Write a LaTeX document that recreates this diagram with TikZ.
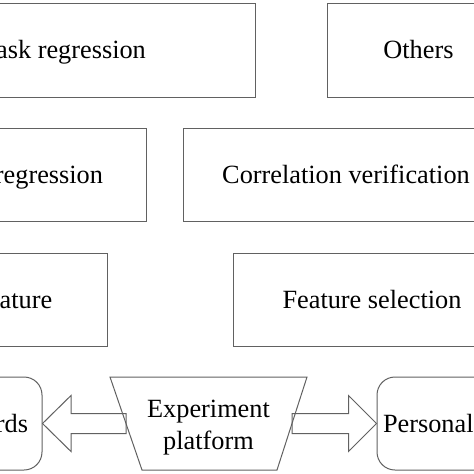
\documentclass[tikz,border=0pt]{standalone}
\usepackage{fontspec}
\setmainfont{Liberation Serif}
\usetikzlibrary{calc}
\begin{document}
\begin{tikzpicture}[x=1pt,y=-1pt,
  lk/.style={draw=black!62, line width=1pt},
  box/.style={lk, rectangle, inner sep=0pt, text height=17.4pt, text depth=0pt},
  rbox/.style={box, rounded corners=18pt},
  every node/.style={font=\fontsize{26.3}{32}\selectfont},
  blockarrow/.style={lk, line join=miter}]
\fill[white] (0,0) rectangle (474,474);
\useasboundingbox (0,0) rectangle (474,474);
\clip (0,0) rectangle (474,474);
% row 1
\node[box, minimum width=368pt, minimum height=94pt] (task) at (71,50) {ask regression};
\node[box, minimum width=183pt, minimum height=94pt] (others) at (418.5,50) {Others};
% row 2
\node[box, minimum width=194pt, minimum height=93pt] (regr) at (49,174.5) {regression};
\node[box, minimum width=326pt, minimum height=93pt] (corr) at (346,174.5) {Correlation verification};
% row 3
\node[box, minimum width=162pt, minimum height=93pt] (feat) at (26,299.5) {ature};
\node[box, minimum width=278pt, minimum height=93pt] (fsel) at (372,299.5) {Feature selection};
% row 4
\node[rbox, minimum height=93pt, text width=72pt, align=right, inner xsep=14pt] (L) at (-8,423.5) {rds};
\node[rbox, minimum height=93pt, text width=148pt, align=left, inner xsep=6pt] (R) at (457,423.5) {Personal};
% trapezoid
\coordinate (tl) at (110,377);
\coordinate (tr) at (307,377);
\coordinate (br) at (277,470);
\coordinate (bl) at (142,470);
\coordinate (expw) at (126,423.5);
\coordinate (expe) at (292,423.5);
\draw[lk, line join=miter] (tl) -- (tr) -- (br) -- (bl) -- cycle;
\node[align=center, inner sep=0pt] (exp) at (208.5,428) {Experiment\\platform};
% block arrows
\draw[blockarrow] ($(expw)+(0,-10)$) -- ($(L.east)+(28.5,-10)$) -- ($(L.east)+(28.5,-28)$)
  -- (L.east) -- ($(L.east)+(28.5,28)$) -- ($(L.east)+(28.5,10)$) -- ($(expw)+(0,10)$) -- cycle;
\draw[blockarrow] ($(expe)+(0,-10)$) -- ($(R.west)+(-28,-10)$) -- ($(R.west)+(-28,-28)$)
  -- (R.west) -- ($(R.west)+(-28,28)$) -- ($(R.west)+(-28,10)$) -- ($(expe)+(0,10)$) -- cycle;
\end{tikzpicture}
\end{document}
